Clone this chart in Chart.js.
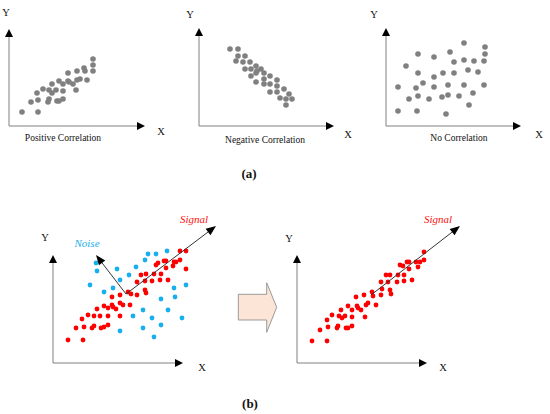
<!DOCTYPE html>
<html>
<head>
<meta charset="utf-8">
<script src="https://cdn.jsdelivr.net/npm/chart.js@4.4.0/dist/chart.umd.min.js"></script>
<style>
  body { margin: 0; background: #fff; }
  #page { position: relative; width: 550px; height: 414px; overflow: hidden; }
  canvas { position: absolute; }
  .t { position: absolute; transform: translate(-50%, -50%); white-space: nowrap; color: #111; line-height: 1;
       font-family: "Liberation Serif", "Times New Roman", "DejaVu Serif", serif; }
  .ax { font-size: 10.5px; }
  .cap { font-size: 9.5px; }
  .lab { font-size: 13px; font-weight: bold; }
  .it { font-size: 11px; font-style: italic; }
</style>
</head>
<body>
<div id="page">
  <span class="t ax" style="left:6px;top:13px">Y</span>
  <span class="t ax" style="left:161px;top:132px">X</span>
  <span class="t cap" style="left:63px;top:139px">Positive Correlation</span>

  <span class="t ax" style="left:190px;top:15px">Y</span>
  <span class="t ax" style="left:348px;top:135px">X</span>
  <span class="t cap" style="left:265px;top:141px">Negative Correlation</span>

  <span class="t ax" style="left:374px;top:15px">Y</span>
  <span class="t ax" style="left:539px;top:135px">X</span>
  <span class="t cap" style="left:459px;top:139px">No Correlation</span>

  <span class="t lab" style="left:249px;top:173px">(a)</span>

  <span class="t ax" style="left:45px;top:238px">Y</span>
  <span class="t ax" style="left:202px;top:368px">X</span>
  <span class="t it" style="left:87px;top:243px;color:#1aaeea">Noise</span>
  <span class="t it" style="left:194px;top:219px;color:#ff1010">Signal</span>

  <span class="t ax" style="left:289px;top:239px">Y</span>
  <span class="t ax" style="left:443px;top:368px">X</span>
  <span class="t it" style="left:438px;top:219px;color:#ff1010">Signal</span>

  <span class="t lab" style="left:250px;top:403px">(b)</span>

  <svg style="position:absolute;left:230px;top:276px" width="60" height="64">
    <polygon points="8.3,18.3 36.7,18.3 36.7,6.7 46.7,31.3 36.7,56.3 36.7,44 8.3,44"
      fill="#fce4d6" stroke="#9a9a9a" stroke-width="1"/>
  </svg>
</div>
<script>
// (a) gray scatter panels, values relative to each axis origin
const positivePts = [[13,14],[29,14],[22,24],[29,26],[28,33],[34,37],[39,24],[40,27],[40,36],[43,33],
  [43,42],[47,36],[48,25],[50,25],[50,45],[54,27],[54,35],[54,42],[59,45],[59,53],[60,44],[64,42],
  [67,36],[68,46],[68,55],[71,47],[75,58],[76,55],[78,46],[84,55],[84,61],[84,67]];

const negativePts = [[31,77],[39,77],[39,70],[46,70],[37,65],[44,64],[51,64],[57,60],[46,57],[52,57],
  [58,55],[62,57],[52,50],[57,53],[65,53],[71,50],[57,44],[65,47],[65,42],[71,42],[78,46],[78,40],
  [71,34],[78,34],[85,37],[90,32],[81,28],[87,27],[93,27],[87,21]];

const noCorrPts = [[12,15],[12,39],[20,60],[23,27],[31,15],[30,38],[32,53],[32,72],[32,30],[37,43],
  [43,27],[48,39],[48,49],[48,69],[56,29],[57,53],[60,12],[62,31],[62,41],[64,74],[68,53],[68,64],
  [73,30],[78,41],[78,66],[78,83],[82,56],[83,21],[87,33],[88,65],[92,54],[98,41],[98,65],[99,72],[99,79]];

// (b) signal (red) and noise (blue)
const signalPts = [[15,23],[30,23],[23,35],[31,36],[39,35],[41,37],[48,35],[51,36],[55,38],[29,44],
  [35,48],[41,47],[47,47],[44,54],[51,57],[55,47],[55,55],[59,58],[59,66],[60,56],[63,54],[67,47],
  [67,60],[67,68],[70,58],[75,71],[77,58],[78,69],[84,68],[84,81],[92,73],[93,70],[92,82],[88,88],
  [93,89],[99,82],[101,89],[103,98],[105,100],[107,83],[108,89],[111,102],[113,102],[115,83],[113,95],
  [120,97],[121,101],[123,101],[127,112],[127,103],[133,112],[134,104],[133,94],[139,114],[143,112]];

const noisePts = [[91,123],[83,113],[95,109],[101,116],[103,109],[114,112],[92,103],[43,100],[44,92],
  [64,94],[83,96],[37,78],[67,83],[76,88],[51,71],[60,75],[121,75],[133,78],[141,69],[122,66],
  [108,64],[90,53],[115,53],[80,47],[99,45],[129,45],[108,38],[90,35],[67,32],[101,26]];

const denoisedPts = [[15,22],[30,22],[23,33],[31,36],[30,43],[35,48],[40,35],[41,37],[42,47],[45,45],
  [44,53],[48,47],[49,35],[51,35],[51,57],[55,37],[55,46],[55,53],[60,57],[59,66],[61,55],[64,53],
  [68,46],[69,58],[67,68],[71,60],[75,71],[76,67],[79,58],[84,68],[85,74],[84,81],[89,88],[93,88],
  [91,81],[93,73],[94,69],[100,81],[101,88],[103,98],[107,88],[107,82],[106,97],[110,101],[112,101],
  [112,94],[115,83],[119,101],[121,96],[123,101],[127,111],[127,103],[134,111],[135,103],[134,93],
  [139,114],[144,111]];

// arrows in (b): [startX, startY, tipX, tipY]
const signalArrowB1 = [73, 69, 163, 137];
const noiseArrowB1 = [73, 69, 43, 108];
const signalArrowB2 = [74, 68, 163, 137];

function head(ctx, x1, y1, x2, y2, len, half) {
  const a = Math.atan2(y2 - y1, x2 - x1);
  ctx.beginPath();
  ctx.moveTo(x2, y2);
  ctx.lineTo(x2 - len * Math.cos(a) + half * Math.sin(a), y2 - len * Math.sin(a) - half * Math.cos(a));
  ctx.lineTo(x2 - len * Math.cos(a) - half * Math.sin(a), y2 - len * Math.sin(a) + half * Math.cos(a));
  ctx.closePath();
  ctx.fill();
}

function arrow(ctx, x1, y1, x2, y2, color, len, half) {
  const a = Math.atan2(y2 - y1, x2 - x1);
  ctx.strokeStyle = color;
  ctx.lineWidth = 1;
  ctx.beginPath();
  ctx.moveTo(x1, y1);
  ctx.lineTo(x2 - (len - 1) * Math.cos(a), y2 - (len - 1) * Math.sin(a));
  ctx.stroke();
  ctx.fillStyle = '#000';
  head(ctx, x1, y1, x2, y2, len, half);
}

function panel(box, sets, extraArrows) {
  const pad = box.pad;
  const cv = document.createElement('canvas');
  const cw = pad.l + box.w + pad.r, ch = pad.t + box.h + pad.b;
  cv.style.left = (box.ox - pad.l) + 'px';
  cv.style.top = (box.oy - box.h - pad.t) + 'px';
  cv.style.width = cw + 'px';
  cv.style.height = ch + 'px';
  cv.width = cw; cv.height = ch;
  document.getElementById('page').appendChild(cv);

  const arrows = {
    id: 'arrows',
    beforeDatasetsDraw(chart) {
      const ctx = chart.ctx, xs = chart.scales.x, ys = chart.scales.y;
      const x0 = xs.getPixelForValue(0), y0 = ys.getPixelForValue(0);
      ctx.save();
      arrow(ctx, x0, y0, xs.getPixelForValue(box.w), y0, '#808080', 8, 4);
      arrow(ctx, x0, y0, x0, ys.getPixelForValue(box.h), '#808080', 8, 4);
      ctx.restore();
    },
    afterDatasetsDraw(chart) {
      const ctx = chart.ctx, xs = chart.scales.x, ys = chart.scales.y;
      ctx.save();
      extraArrows.forEach(a => {
        arrow(ctx, xs.getPixelForValue(a[0]), ys.getPixelForValue(a[1]),
          xs.getPixelForValue(a[2]), ys.getPixelForValue(a[3]), '#333', 10, 4);
      });
      ctx.restore();
    }
  };

  new Chart(cv, {
    type: 'scatter',
    data: {
      datasets: sets.map(s => ({
        data: s.pts.map(p => ({ x: p[0], y: p[1] })),
        backgroundColor: s.color,
        borderWidth: 0,
        pointRadius: s.r,
        clip: false
      }))
    },
    options: {
      responsive: false,
      animation: false,
      events: [],
      layout: { padding: { left: pad.l, right: pad.r, top: pad.t, bottom: pad.b } },
      plugins: { legend: { display: false }, tooltip: { enabled: false } },
      scales: {
        x: { type: 'linear', min: 0, max: box.w, display: false },
        y: { type: 'linear', min: 0, max: box.h, display: false }
      }
    },
    plugins: [arrows]
  });
}

const padA = { l: 6, r: 6, t: 6, b: 6 };
const padB = { l: 6, r: 40, t: 36, b: 6 };
const gray = '#808080', red = '#ff0000', blue = '#19afef';

panel({ ox: 9, oy: 126, w: 136, h: 97, pad: padA }, [{ pts: positivePts, color: gray, r: 2.8 }], []);
panel({ ox: 199, oy: 126, w: 135, h: 98, pad: padA }, [{ pts: negativePts, color: gray, r: 2.8 }], []);
panel({ ox: 386, oy: 126, w: 135, h: 98, pad: padA }, [{ pts: noCorrPts, color: gray, r: 2.8 }], []);
panel({ ox: 53, oy: 363, w: 130, h: 108, pad: padB },
  [{ pts: noisePts, color: blue, r: 2.4 }, { pts: signalPts, color: red, r: 2.4 }],
  [signalArrowB1, noiseArrowB1]);
panel({ ox: 297, oy: 363, w: 130, h: 108, pad: padB },
  [{ pts: denoisedPts, color: red, r: 2.4 }], [signalArrowB2]);
</script>
</body>
</html>
